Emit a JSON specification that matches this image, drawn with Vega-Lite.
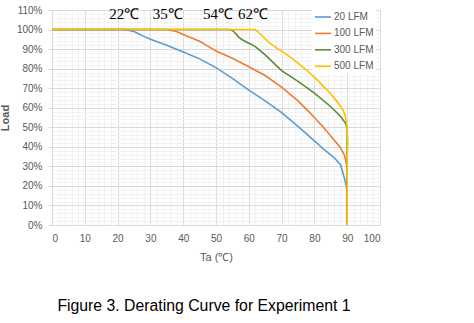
{
  "$schema": "https://vega.github.io/schema/vega-lite/v6.json",
  "autosize": {"type": "none"},
  "width": 328,
  "height": 215,
  "padding": {"left": 52, "top": 10, "right": 94, "bottom": 98},
  "background": "white",
  "config": {"view": {"stroke": null}, "font": "Liberation Sans"},
  "title": {"text": "Figure 3. Derating Curve for Experiment 1", "orient": "bottom", "anchor": "middle", "fontSize": 15.8, "font": "Liberation Sans", "fontWeight": "normal", "color": "#000000", "offset": 37, "dx": -12},
  "datasets": {
    "curves": [
      {"s": "20 LFM", "i": 0, "ta": 0, "load": 1.0},
      {"s": "20 LFM", "i": 1, "ta": 22, "load": 1.0},
      {"s": "20 LFM", "i": 2, "ta": 25, "load": 0.99},
      {"s": "20 LFM", "i": 3, "ta": 28, "load": 0.965},
      {"s": "20 LFM", "i": 4, "ta": 30, "load": 0.95},
      {"s": "20 LFM", "i": 5, "ta": 35, "load": 0.92},
      {"s": "20 LFM", "i": 6, "ta": 40, "load": 0.885},
      {"s": "20 LFM", "i": 7, "ta": 45, "load": 0.85},
      {"s": "20 LFM", "i": 8, "ta": 50, "load": 0.805},
      {"s": "20 LFM", "i": 9, "ta": 55, "load": 0.75},
      {"s": "20 LFM", "i": 10, "ta": 60, "load": 0.69},
      {"s": "20 LFM", "i": 11, "ta": 65, "load": 0.635},
      {"s": "20 LFM", "i": 12, "ta": 70, "load": 0.575},
      {"s": "20 LFM", "i": 13, "ta": 75, "load": 0.505},
      {"s": "20 LFM", "i": 14, "ta": 80, "load": 0.43},
      {"s": "20 LFM", "i": 15, "ta": 83, "load": 0.385},
      {"s": "20 LFM", "i": 16, "ta": 86, "load": 0.345},
      {"s": "20 LFM", "i": 17, "ta": 88, "load": 0.307},
      {"s": "20 LFM", "i": 18, "ta": 89.3, "load": 0.23},
      {"s": "20 LFM", "i": 19, "ta": 89.7, "load": 0.2},
      {"s": "20 LFM", "i": 20, "ta": 90, "load": 0.17},
      {"s": "20 LFM", "i": 21, "ta": 90, "load": 0.0},
      {"s": "100 LFM", "i": 0, "ta": 0, "load": 1.0},
      {"s": "100 LFM", "i": 1, "ta": 35, "load": 1.0},
      {"s": "100 LFM", "i": 2, "ta": 38, "load": 0.99},
      {"s": "100 LFM", "i": 3, "ta": 40, "load": 0.975},
      {"s": "100 LFM", "i": 4, "ta": 45, "load": 0.94},
      {"s": "100 LFM", "i": 5, "ta": 48, "load": 0.91},
      {"s": "100 LFM", "i": 6, "ta": 50, "load": 0.89},
      {"s": "100 LFM", "i": 7, "ta": 55, "load": 0.853},
      {"s": "100 LFM", "i": 8, "ta": 60, "load": 0.81},
      {"s": "100 LFM", "i": 9, "ta": 65, "load": 0.765},
      {"s": "100 LFM", "i": 10, "ta": 70, "load": 0.705},
      {"s": "100 LFM", "i": 11, "ta": 75, "load": 0.635},
      {"s": "100 LFM", "i": 12, "ta": 78, "load": 0.585},
      {"s": "100 LFM", "i": 13, "ta": 80, "load": 0.55},
      {"s": "100 LFM", "i": 14, "ta": 83, "load": 0.495},
      {"s": "100 LFM", "i": 15, "ta": 86, "load": 0.435},
      {"s": "100 LFM", "i": 16, "ta": 88, "load": 0.395},
      {"s": "100 LFM", "i": 17, "ta": 89.2, "load": 0.355},
      {"s": "100 LFM", "i": 18, "ta": 89.7, "load": 0.32},
      {"s": "100 LFM", "i": 19, "ta": 90, "load": 0.29},
      {"s": "100 LFM", "i": 20, "ta": 90, "load": 0.0},
      {"s": "300 LFM", "i": 0, "ta": 0, "load": 1.0},
      {"s": "300 LFM", "i": 1, "ta": 54, "load": 1.0},
      {"s": "300 LFM", "i": 2, "ta": 55, "load": 0.995},
      {"s": "300 LFM", "i": 3, "ta": 56, "load": 0.98},
      {"s": "300 LFM", "i": 4, "ta": 57, "load": 0.96},
      {"s": "300 LFM", "i": 5, "ta": 58, "load": 0.948},
      {"s": "300 LFM", "i": 6, "ta": 60, "load": 0.93},
      {"s": "300 LFM", "i": 7, "ta": 62, "load": 0.913},
      {"s": "300 LFM", "i": 8, "ta": 65, "load": 0.87},
      {"s": "300 LFM", "i": 9, "ta": 70, "load": 0.79},
      {"s": "300 LFM", "i": 10, "ta": 75, "load": 0.735},
      {"s": "300 LFM", "i": 11, "ta": 80, "load": 0.675},
      {"s": "300 LFM", "i": 12, "ta": 85, "load": 0.605},
      {"s": "300 LFM", "i": 13, "ta": 88, "load": 0.555},
      {"s": "300 LFM", "i": 14, "ta": 89.5, "load": 0.52},
      {"s": "300 LFM", "i": 15, "ta": 90, "load": 0.49},
      {"s": "300 LFM", "i": 16, "ta": 90, "load": 0.0},
      {"s": "500 LFM", "i": 0, "ta": 0, "load": 1.0},
      {"s": "500 LFM", "i": 1, "ta": 62, "load": 1.0},
      {"s": "500 LFM", "i": 2, "ta": 63, "load": 0.985},
      {"s": "500 LFM", "i": 3, "ta": 64.4, "load": 0.963},
      {"s": "500 LFM", "i": 4, "ta": 66, "load": 0.935},
      {"s": "500 LFM", "i": 5, "ta": 69.5, "load": 0.895},
      {"s": "500 LFM", "i": 6, "ta": 73, "load": 0.855},
      {"s": "500 LFM", "i": 7, "ta": 77.6, "load": 0.793},
      {"s": "500 LFM", "i": 8, "ta": 81, "load": 0.74},
      {"s": "500 LFM", "i": 9, "ta": 84.8, "load": 0.674},
      {"s": "500 LFM", "i": 10, "ta": 87, "load": 0.63},
      {"s": "500 LFM", "i": 11, "ta": 88.8, "load": 0.588},
      {"s": "500 LFM", "i": 12, "ta": 89.5, "load": 0.55},
      {"s": "500 LFM", "i": 13, "ta": 89.8, "load": 0.52},
      {"s": "500 LFM", "i": 14, "ta": 90, "load": 0.49},
      {"s": "500 LFM", "i": 15, "ta": 90.2, "load": 0.42},
      {"s": "500 LFM", "i": 16, "ta": 90, "load": 0.35},
      {"s": "500 LFM", "i": 17, "ta": 90, "load": 0.0}
    ],
    "labels": [
      {"t": "22℃", "ta": 22, "load": 1.054},
      {"t": "35℃", "ta": 35.3, "load": 1.054},
      {"t": "54℃", "ta": 50.6, "load": 1.054},
      {"t": "62℃", "ta": 61.3, "load": 1.054}
    ]
  },
  "layer": [
    {
      "data": {"name": "curves"},
      "mark": {"type": "line", "opacity": 0},
      "encoding": {
        "x": {"field": "ta", "type": "quantitative", "scale": {"domain": [0, 100], "nice": false},
          "axis": {"orient": "bottom", "values": [2,4,6,8,12,14,16,18,22,24,26,28,32,34,36,38,42,44,46,48,52,54,56,58,62,64,66,68,72,74,76,78,82,84,86,88,92,94,96,98], "grid": true, "gridColor": "#f2f2f2", "gridWidth": 1, "labels": false, "ticks": false, "domain": false, "title": null}},
        "y": {"field": "load", "type": "quantitative", "scale": {"domain": [0, 1.1], "nice": false},
          "axis": {"orient": "left", "values": [0.02,0.04,0.06,0.08,0.12,0.14,0.16,0.18,0.22,0.24,0.26,0.28,0.32,0.34,0.36,0.38,0.42,0.44,0.46,0.48,0.52,0.54,0.56,0.58,0.62,0.64,0.66,0.68,0.72,0.74,0.76,0.78,0.82,0.84,0.86,0.88,0.92,0.94,0.96,0.98,1.02,1.04,1.06,1.08], "grid": true, "gridColor": "#f2f2f2", "gridWidth": 1, "labels": false, "ticks": false, "domain": false, "title": null}},
        "detail": {"field": "s"}
      }
    },
    {
      "data": {"name": "curves"},
      "mark": {"type": "line", "strokeWidth": 1.6},
      "encoding": {
        "x": {"field": "ta", "type": "quantitative", "scale": {"domain": [0, 100], "nice": false},
          "axis": {"orient": "bottom", "values": [0,10,20,30,40,50,60,70,80,90,100], "grid": true, "gridColor": "#d9d9d9", "domainColor": "#d9d9d9", "ticks": false, "labelColor": "#595959", "labelFontSize": 10, "labelPadding": 8, "title": "Ta (℃)", "titleColor": "#595959", "titleFontSize": 11, "titleFontWeight": "normal", "titlePadding": 8}},
        "y": {"field": "load", "type": "quantitative", "scale": {"domain": [0, 1.1], "nice": false},
          "axis": {"orient": "left", "values": [0,0.1,0.2,0.3,0.4,0.5,0.6,0.7,0.8,0.9,1.0,1.1], "format": ".0%", "grid": true, "gridColor": "#d9d9d9", "domainColor": "#d9d9d9", "tickColor": "#d9d9d9", "tickSize": 4, "labelColor": "#595959", "labelFontSize": 10, "labelPadding": 6, "title": "Load", "titleColor": "#595959", "titleFontSize": 11, "titleFontWeight": "bold", "titlePadding": 6}},
        "color": {"field": "s", "type": "nominal",
          "scale": {"domain": ["20 LFM", "100 LFM", "300 LFM", "500 LFM"], "range": ["#5B9BD5", "#ED7D31", "#5A8A3C", "#FFC000"]},
          "legend": {"title": null, "orient": "none", "legendX": 260, "legendY": -4, "symbolType": "stroke", "symbolSize": 256, "symbolStrokeWidth": 1.6, "labelFontSize": 10, "labelColor": "#595959", "labelOffset": 2, "rowPadding": 2.4, "fillColor": "white", "padding": 2}},
        "order": {"field": "i", "type": "quantitative"}
      }
    },
    {
      "data": {"name": "labels"},
      "mark": {"type": "text", "font": "Liberation Serif", "fontSize": 15, "color": "#000000", "baseline": "alphabetic", "align": "center"},
      "encoding": {
        "x": {"field": "ta", "type": "quantitative", "axis": null},
        "y": {"field": "load", "type": "quantitative", "axis": null},
        "text": {"field": "t"}
      }
    }
  ],
  "resolve": {"axis": {"x": "independent", "y": "independent"}}
}
